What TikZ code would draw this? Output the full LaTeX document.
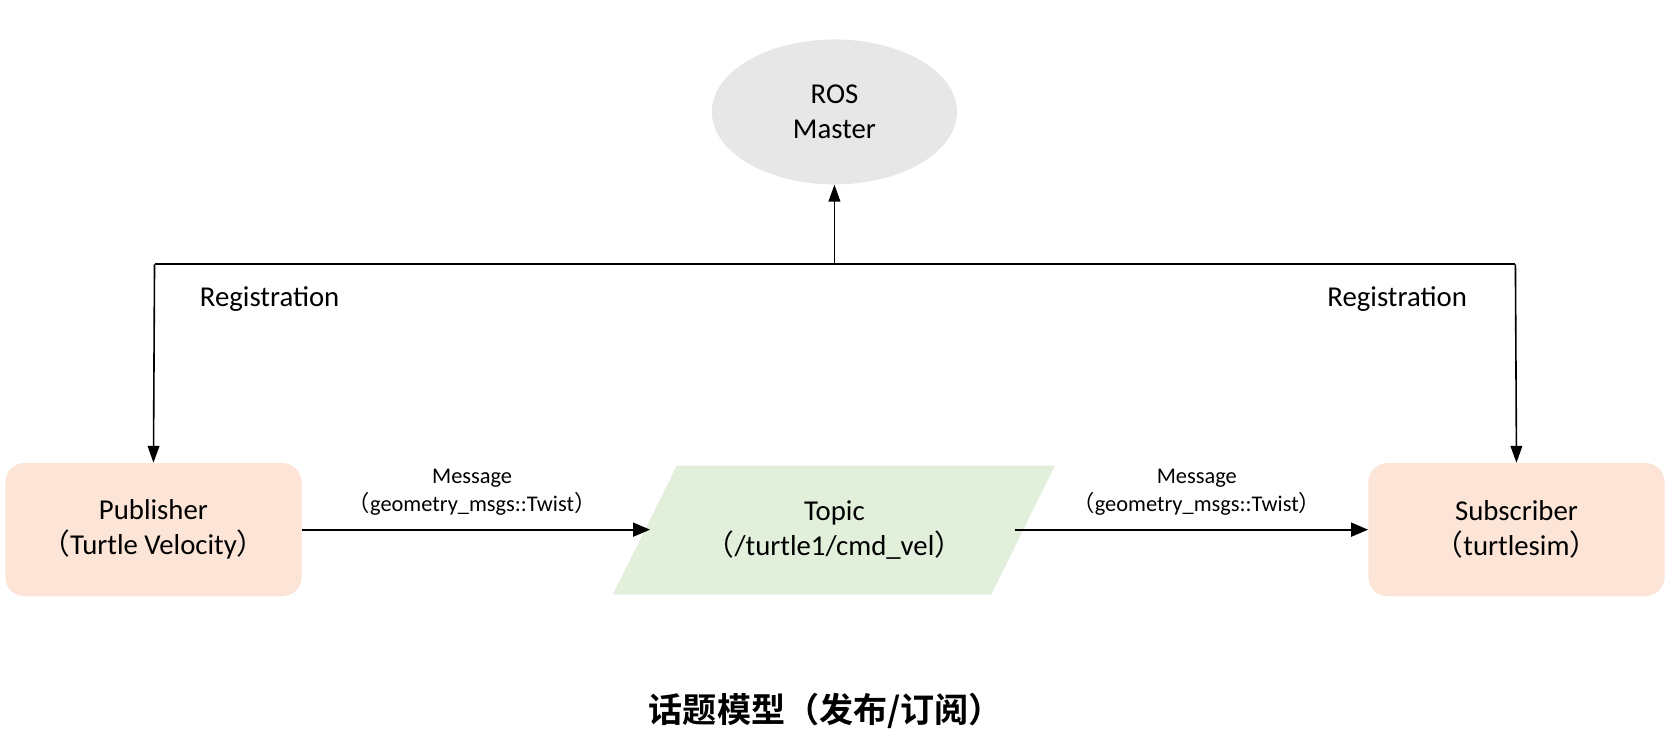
\documentclass[tikz,border=0pt]{standalone}
\usepackage{fontspec}
\setmainfont{Carlito}
\newfontfamily\cjk{Noto Sans CJK SC}
\newfontfamily\cjkb{Noto Sans CJK SC}[BoldFont={Noto Sans CJK SC Bold}]
\newcommand{\lpar}{{\cjk （}}
\newcommand{\rpar}{{\cjk ）}}
\usetikzlibrary{shapes.geometric,arrows.meta}
\definecolor{boxfill}{HTML}{FCE4D6}
\definecolor{topicfill}{HTML}{E2EFDA}
\definecolor{masterfill}{HTML}{E7E7E7}
\begin{document}
\begin{tikzpicture}[x=1pt,y=-1pt,
  lbl/.style={font=\fontsize{27}{33}\selectfont,align=center},
  small/.style={font=\fontsize{21}{26}\selectfont,align=center},
  conn/.style={line width=2pt,-{Triangle[length=16pt,width=13pt]}},
  thin/.style={line width=1.5pt},
  ends/.style={line width=1.5pt,-{Triangle[length=16pt,width=11pt]}},
  rbox/.style={rounded corners=18pt,fill=boxfill,draw=none,minimum width=278pt,minimum height=125pt,lbl}]
\useasboundingbox (0,0) rectangle (1568,699);
\node[ellipse,fill=masterfill,minimum width=230pt,minimum height=136pt,lbl] (master) at (783,105) {ROS\\Master};
\node[rbox] (pub) at (144,497) {Publisher\\\lpar Turtle Velocity\rpar};
\node[rbox] (sub) at (1423,497) {Subscriber\\\lpar turtlesim\rpar};
\fill[topicfill] (635,437) -- (990,437) -- (930,558) -- (575,558) -- cycle;
\node[lbl] (topic) at (783,497) {Topic\\\lpar /turtle1/cmd\_vel\rpar};
\coordinate (tl) at (610,497);
\coordinate (tr) at (952,497);
\coordinate (mj) at (783,248);
\coordinate (lj) at (145,248);
\coordinate (rj) at (1422,248);
\draw[conn] (pub.east) -- (tl);
\draw[conn] (tr) -- (sub.west);
\draw[thin] (lj) -- (rj);
\draw[ends] (mj) -- (master.south);
\draw[ends] (lj) -- (pub.north);
\draw[ends] (rj) -- (sub.north);
\node[lbl] (reg1) at (253,281) {Registration};
\node[lbl] (reg2) at (1311,281) {Registration};
\node[small] (m1) at (443,462) {Message\\\lpar geometry\_msgs::Twist\rpar};
\node[small] (m2) at (1123,462) {Message\\\lpar geometry\_msgs::Twist\rpar};
\node[font=\cjkb\bfseries\fontsize{32}{38}\selectfont] (cap) at (775,667) {话题模型（发布/订阅）};
\end{tikzpicture}
\end{document}
